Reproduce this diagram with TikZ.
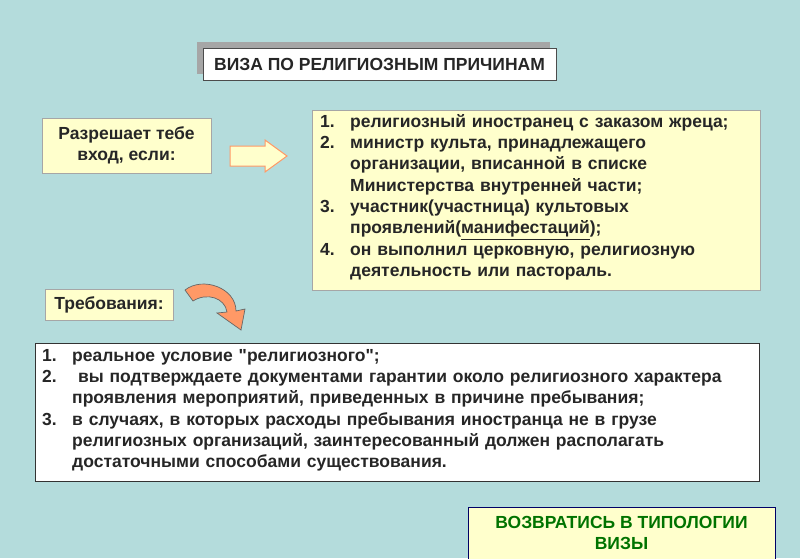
\documentclass[tikz,border=0pt]{standalone}
\usepackage{fontspec}
\setmainfont{Liberation Sans}[Ligatures=TeXOff]
\begin{document}
\begin{tikzpicture}[x=1pt,y=-1pt,
  box/.style={draw=#1,line width=1pt,inner sep=0pt},
  txt/.style={font=\bfseries\fontsize{17.5}{21.3}\selectfont,text=black!85,align=left,anchor=north west,inner sep=0pt}]
\definecolor{bg}{HTML}{B4DCDC}
\definecolor{pale}{HTML}{FFFFCC}
\definecolor{org}{HTML}{FF9966}
\fill[bg] (0,0) rectangle (800,558);
\useasboundingbox (0,0) rectangle (800,558);
% title
\fill[gray!70] (197,42) rectangle (550,74);
\draw[fill=white,draw=black!70,line width=1pt] (203,48) rectangle (556,80);
\node[txt,anchor=center,font=\bfseries\fontsize{17.5}{20}\selectfont] (title) at (379.5,64) {ВИЗА ПО РЕЛИГИОЗНЫМ ПРИЧИНАМ};
% left box
\draw[fill=pale,draw=gray!70,line width=1pt] (42,118) rectangle (211,173);
\node[txt,anchor=center,align=center] (enter) at (126.5,145.5) {Разрешает тебе\\вход, если:};
% straight arrow
\draw[fill=pale,draw=org,line width=1pt] (230,146) -- (265,146) -- (265,140) -- (287,156) -- (265,172) -- (265,166) -- (230,166) -- cycle;
% right list
\draw[fill=pale,draw=gray!70,line width=1pt] (312,110) rectangle (760,290);
\node[txt,text width=440] (list1) at (320,114) {%
\hangindent=30pt\hangafter=1\noindent\makebox[30pt][l]{1.}религиозный иностранец с заказом жреца;\par
\hangindent=30pt\hangafter=1\noindent\makebox[30pt][l]{2.}министр культа, принадлежащего\newline организации, вписанной в списке\newline Министерства внутренней части;\par
\hangindent=30pt\hangafter=1\noindent\makebox[30pt][l]{3.}участник(участница) культовых\newline проявлений(\underline{манифестаций});\par
\hangindent=30pt\hangafter=1\noindent\makebox[30pt][l]{4.}он выполнил церковную, религиозную\newline деятельность или пастораль.\par};
% requirements
\draw[fill=pale,draw=gray!70,line width=1pt] (45,289) rectangle (173,320);
\node[txt,anchor=center] (req) at (109,304.5) {Требования:};
% curved arrow
\draw[fill=org,draw=black!60,line width=0.7pt] (185,290) .. controls (203,276) and (236,288) .. (236,311) -- (245,309) -- (241,330) -- (217,313) -- (227,312) .. controls (225,298) and (207,292) .. (193,301) -- cycle;
% bottom list
\draw[fill=white,draw=black!80,line width=1pt] (35,343) rectangle (759,481);
\node[txt,text width=715] (list2) at (42,349) {%
\hangindent=30pt\hangafter=1\noindent\makebox[30pt][l]{1.}реальное условие "религиозного";\par
\hangindent=30pt\hangafter=1\noindent\makebox[30pt][l]{2.} вы подтверждаете документами гарантии около религиозного характера\newline проявления мероприятий, приведенных в причине пребывания;\par
\hangindent=30pt\hangafter=1\noindent\makebox[30pt][l]{3.}в случаях, в которых расходы пребывания иностранца не в грузе\newline религиозных организаций, заинтересованный должен располагать\newline достаточными способами существования.\par};
% return button
\draw[fill=pale,draw=blue!40!black,line width=1pt] (468,507) rectangle (775,570);
\node[txt,anchor=center,align=center,text=green!45!black] (ret) at (621.5,533) {ВОЗВРАТИСЬ В ТИПОЛОГИИ\\ВИЗЫ};
\end{tikzpicture}
\end{document}
